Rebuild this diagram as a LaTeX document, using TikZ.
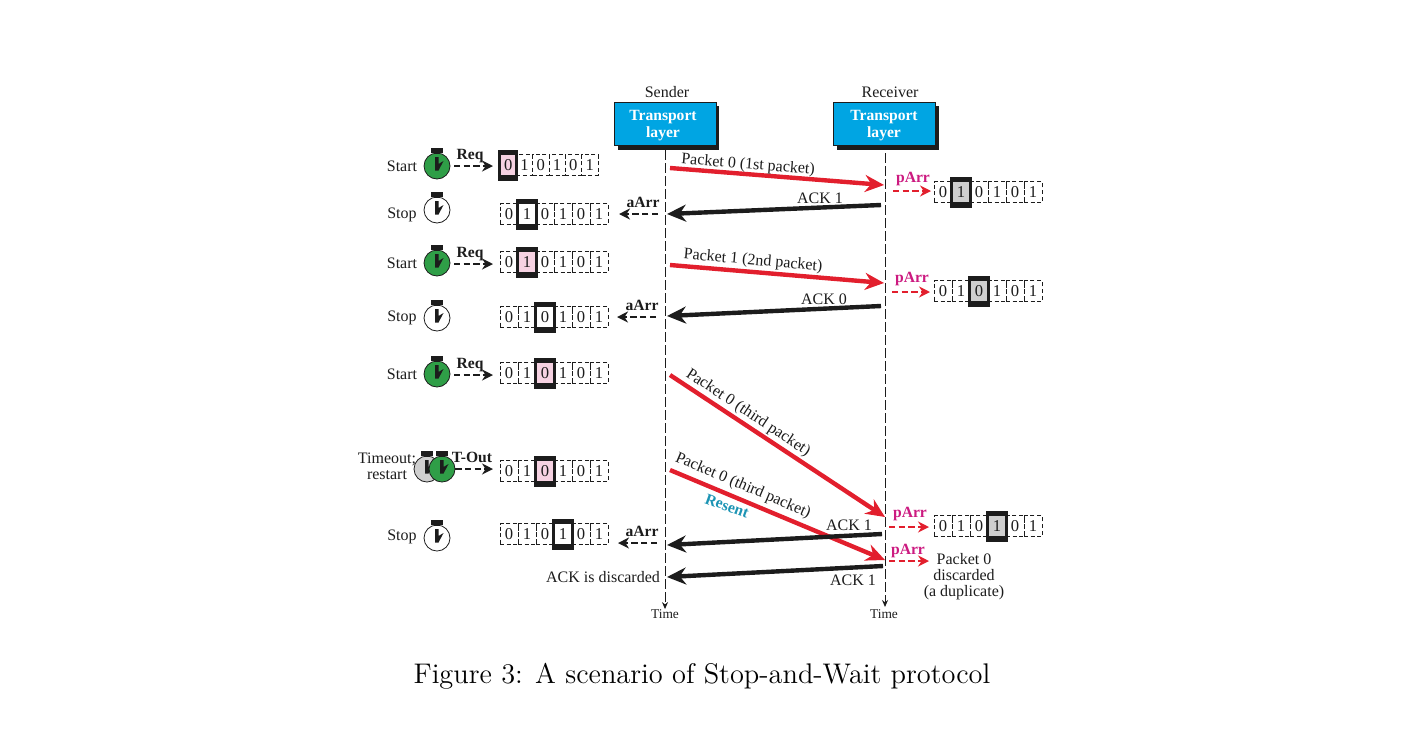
\documentclass[tikz,border=0pt]{standalone}
\usepackage{fontspec}
\usepackage{tikz}
\usetikzlibrary{arrows.meta,positioning}
\newfontfamily\figfont{Liberation Serif}
\definecolor{boxblue}{HTML}{00A5E3}
\definecolor{pktred}{HTML}{E21F2D}
\definecolor{arrpink}{HTML}{CC1A80}
\definecolor{clockgreen}{HTML}{2F9E47}
\definecolor{winpink}{HTML}{F6D2E2}
\definecolor{wingrey}{HTML}{CFCFCF}
\definecolor{resentblue}{HTML}{1C94B4}
\definecolor{inkblack}{HTML}{1C1C1C}
\tikzset{
  txt/.style={font=\figfont\fontsize{8}{8}\selectfont,text=inkblack,inner sep=0pt,align=center},
  txtsmall/.style={txt,font=\figfont\fontsize{6.7}{7}\selectfont},
  boldlab/.style={txt,font=\figfont\bfseries\fontsize{7.8}{8}\selectfont},
  layerbox/.style={fill=boxblue,draw=inkblack,line width=0.3pt,inner sep=0pt,
    minimum width=51pt,minimum height=21.5pt},
  layertxt/.style={text=white,align=center,inner sep=0pt,
    font=\figfont\bfseries\fontsize{7.8}{6.3}\selectfont},
  lifeline/.style={line width=0.5pt,inkblack,dash pattern=on 5pt off 1.5pt,-{Stealth[length=3.5pt,width=3pt]}},
  pktline/.style={pktred,line width=2.2pt,-{Stealth[length=9.5pt,width=8.5pt]}},
  ackline/.style={inkblack,line width=2.2pt,-{Stealth[length=9.5pt,width=8.5pt]}},
  reqline/.style={inkblack,line width=1.1pt,dash pattern=on 3.2pt off 1.6pt,-{Stealth[length=5.5pt,width=5.5pt]}},
  parrline/.style={reqline,pktred},
  seqcell/.style={draw=inkblack,line width=0.3pt,dash pattern=on 2pt off 1.3pt,inner sep=0pt,
    minimum height=10.3pt,font=\figfont\fontsize{8.3}{8}\selectfont,text=inkblack},
  timerdial/.style={circle,draw=inkblack,line width=0.4pt,inner sep=0pt,minimum size=13pt}
}
% #1 name, #2 left x, #3 mid y, #4 cell width, #5 window cell, #6 window colour
\newcommand{\SeqBar}[6]{
  \fill[inkblack] ({#2+#5*#4-2},#3-15.5) rectangle ({#2+(#5+1)*#4+2},#3+15.5);
  \fill[#6] ({#2+#5*#4+1},#3-10) rectangle ({#2+(#5+1)*#4-1},#3+10);
  \foreach \d [count=\i from 0] in {0,1,0,1,0,1}
    \node[seqcell,minimum width=#4*0.5pt] (#1\i) at ({#2+(\i+0.5)*#4},#3) {\d};
}
% #1 name, #2 x, #3 y, #4 dial colour
\newcommand{\Timer}[4]{
  \node[timerdial,fill=#4] (#1) at (#2,#3) {};
  \fill[inkblack] (#2-6,#3-18) rectangle (#2+6,#3-13.5);
  \fill[inkblack] (#2-2,#3-14) rectangle (#2+2,#3-12);
  \fill[inkblack] (#2-2,#3-9) -- (#2+1.5,#3-9) -- (#2+1.5,#3-2) -- (#2+6.5,#3-5)
    -- (#2+1.5,#3+4.5) -- (#2-2,#3+4.5) -- cycle;
}
\begin{document}
\begin{tikzpicture}[x=0.5pt,y=-0.5pt]
  \useasboundingbox (0,0) rectangle (1416,745);
  % sender and receiver
  \fill[inkblack] (618,106) rectangle (719,150);
  \fill[inkblack] (837,106) rectangle (939,150);
  \node[layerbox] (sbox) at (665,124) {};
  \node[layerbox] (rbox) at (884.5,124) {};
  \node[layertxt] (stxt) at (663,125.5) {Transport\\layer};
  \node[layertxt] (rtxt) at (884,125.5) {Transport\\layer};
  \node[txt] (slabel) at (667,92) {Sender};
  \node[txt] (rlabel) at (890,92) {Receiver};
  \node[txtsmall] (stime) at (665,614) {Time};
  \node[txtsmall] (rtime) at (884,614) {Time};
  \draw[lifeline] (665,150) -- (stime.north);
  \draw[lifeline] (885,153) -- (885,607);

  % timers and their labels
  \Timer{T1}{437}{166}{clockgreen}
  \Timer{T2}{437}{210}{white}
  \Timer{T3}{437}{263}{clockgreen}
  \Timer{T4}{437}{318}{white}
  \Timer{T5}{437}{374}{clockgreen}
  \Timer{T6a}{427}{469}{wingrey}
  \Timer{T6}{442}{469}{clockgreen}
  \Timer{T7}{437}{538}{white}
  \node[txt] (start1) at (402,166) {Start};
  \node[txt] (stop1) at (402,215) {Stop};
  \node[txt] (start2) at (402,263) {Start};
  \node[txt] (stop2) at (402,318) {Stop};
  \node[txt] (start3) at (402,374) {Start};
  \node[txt] (tout) at (387,466) {Timeout;\\restart};
  \node[txt] (stop3) at (402,537) {Stop};

  % sliding windows
  \SeqBar{A}{500}{165}{16.3}{0}{winpink}
  \SeqBar{B}{500}{214}{18}{1}{white}
  \SeqBar{C}{500}{262}{18}{1}{winpink}
  \SeqBar{D}{500}{317}{18}{2}{white}
  \SeqBar{E}{500}{373}{18}{2}{winpink}
  \SeqBar{F}{500}{471}{18}{2}{winpink}
  \SeqBar{G}{500}{534}{18}{3}{white}
  \SeqBar{R}{934}{192}{18}{1}{wingrey}
  \SeqBar{S}{934}{291}{18}{2}{wingrey}
  \SeqBar{U}{934}{526}{18}{3}{wingrey}

  % sender side events
  \coordinate (req1) at (493,166);
  \coordinate (req2) at (493,264);
  \coordinate (req3) at (493,375);
  \coordinate (req4) at (493,469);
  \draw[reqline] (454,166) -- (req1);
  \draw[reqline] (454,264) -- (req2);
  \draw[reqline] (454,375) -- (req3);
  \draw[reqline] (T6.east) -- (req4);
  \node[boldlab] (reqlab1) at (470,156) {Req};
  \node[boldlab] (reqlab2) at (470,254) {Req};
  \node[boldlab] (reqlab3) at (470,365) {Req};
  \node[boldlab] (toutlab) at (472,457) {T-Out};
  \coordinate (aarr1) at (658,214);
  \coordinate (aarr2) at (656,317);
  \coordinate (aarr3) at (657,543);
  \draw[reqline] (aarr1) -- (619,214);
  \draw[reqline] (aarr2) -- (617,317);
  \draw[reqline] (aarr3) -- (618,543);
  \node[boldlab] (aarrlab1) at (643,202) {aArr};
  \node[boldlab] (aarrlab2) at (642,305) {aArr};
  \node[boldlab] (aarrlab3) at (642,531) {aArr};

  % packets
  \coordinate (p1s) at (670,168);
  \coordinate (p1r) at (884,185);
  \coordinate (p2s) at (670,265);
  \coordinate (p2r) at (884,283);
  \coordinate (p3s) at (670,375);
  \coordinate (p3r) at (885,517);
  \coordinate (p4s) at (670,470);
  \coordinate (p4r) at (885,560);
  \draw[pktline] (p1s) -- (p1r);
  \draw[pktline] (p2s) -- (p2r);
  \draw[pktline] (p3s) -- (p3r);
  \draw[pktline] (p4s) -- (p4r);
  \node[txt,rotate=-4.5] (p1lab) at (748,165) {Packet 0 (1st packet)};
  \node[txt,rotate=-5] (p2lab) at (753,261) {Packet 1 (2nd packet)};
  \node[txt,rotate=-33.5] (p3lab) at (748,413) {Packet 0 (third packet)};
  \node[txt,rotate=-23] (p4lab) at (743,486) {Packet 0 (third packet)};
  \node[boldlab,text=resentblue,rotate=-20] (resent) at (727,506) {Resent};

  % acknowledgements
  \coordinate (k1r) at (881,205);
  \coordinate (k1s) at (667,214);
  \coordinate (k2r) at (881,306);
  \coordinate (k2s) at (667,316);
  \coordinate (k3r) at (882,534);
  \coordinate (k3s) at (667,545);
  \coordinate (k4r) at (883,566);
  \coordinate (k4s) at (667,577);
  \draw[ackline] (k1r) -- (k1s);
  \draw[ackline] (k2r) -- (k2s);
  \draw[ackline] (k3r) -- (k3s);
  \draw[ackline] (k4r) -- (k4s);
  \node[txt] (k1lab) at (820,198) {ACK 1};
  \node[txt] (k2lab) at (824,299) {ACK 0};
  \node[txt] (k3lab) at (849,525) {ACK 1};
  \node[txt] (k4lab) at (853,580) {ACK 1};
  \node[txt] (discack) at (603,577) {ACK is discarded};

  % receiver side events
  \coordinate (par1) at (893,191);
  \coordinate (par2) at (892,292);
  \coordinate (par3) at (889,527);
  \coordinate (par4) at (889,561);
  \draw[parrline] (par1) -- (931,191);
  \draw[parrline] (par2) -- (930,292);
  \draw[parrline] (par3) -- (929,527);
  \draw[parrline] (par4) -- (929,561);
  \node[boldlab,text=arrpink] (parlab1) at (913,179) {pArr};
  \node[boldlab,text=arrpink] (parlab2) at (912,279) {pArr};
  \node[boldlab,text=arrpink] (parlab3) at (910,514) {pArr};
  \node[boldlab,text=arrpink] (parlab4) at (908,551) {pArr};
  \node[txt] (discpkt) at (964,576.5) {Packet 0\\discarded\\(a duplicate)};

  \node[inner sep=0pt,font=\fontsize{14.2}{14}\selectfont] (caption) at (702,676) {Figure 3: A scenario of Stop-and-Wait protocol};
\end{tikzpicture}
\end{document}
